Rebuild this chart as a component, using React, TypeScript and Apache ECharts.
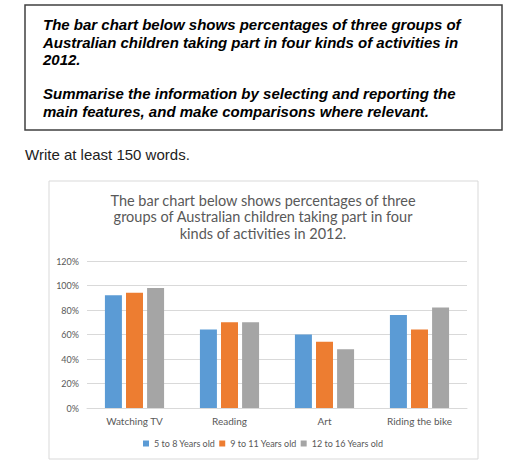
import React, { useEffect, useRef } from "react";
import * as echarts from "echarts";

const categories = ["Watching TV", "Reading", "Art", "Riding the bike"];
const seriesNames = ["5 to 8 Years old", "9 to 11 Years old", "12 to 16 Years old"];
const age5to8 = [92, 64, 60, 76];
const age9to11 = [94, 70, 54, 64];
const age12to16 = [98, 70, 48, 82];
const colors = ["#5B9BD5", "#ED7D31", "#A5A5A5"];
const yTicks = { min: 0, max: 120, interval: 20 };

const taskPara1 = "The bar chart below shows percentages of three groups of\nAustralian children taking part in four kinds of activities in\n2012.";
const taskPara2 = "Summarise the information by selecting and reporting the\nmain features, and make comparisons where relevant.";
const instruction = "Write at least 150 words.";
const chartTitle = "The bar chart below shows percentages of three\ngroups of Australian children taking part in four\nkinds of activities in 2012.";

export default function App() {
  const ref = useRef<HTMLDivElement>(null);
  useEffect(() => {
    if (!ref.current) return;
    const chart = echarts.init(ref.current, null, { renderer: "svg" });
    const values = [age5to8, age9to11, age12to16];
    chart.setOption({
      animation: false,
      backgroundColor: "#ffffff",
      textStyle: { fontFamily: "Lato" },
      grid: { left: 87, right: 45, top: 261, bottom: 56 },
      legend: {
        data: seriesNames,
        left: 138,
        top: 434,
        icon: "rect",
        itemWidth: 6,
        itemHeight: 6,
        itemGap: 4,
        textStyle: { fontSize: 9, color: "#595959", fontFamily: "Lato" },
      },
      xAxis: {
        type: "category",
        data: categories,
        axisLine: { lineStyle: { color: "#D9D9D9" } },
        axisTick: { show: false },
        axisLabel: { color: "#595959", fontSize: 10, margin: 8, fontFamily: "Lato" },
      },
      yAxis: {
        type: "value",
        min: yTicks.min,
        max: yTicks.max,
        interval: yTicks.interval,
        axisLabel: { formatter: "{value}%", color: "#595959", fontSize: 9, margin: 8, fontFamily: "Lato" },
        axisLine: { show: false },
        axisTick: { show: false },
        splitLine: { lineStyle: { color: "#D9D9D9" } },
      },
      series: seriesNames.map((name, i) => ({
        name,
        type: "bar",
        data: values[i],
        barWidth: 17,
        barGap: "24%",
        itemStyle: { color: colors[i] },
      })),
      graphic: [
        {
          type: "rect",
          shape: { x: 25, y: 5, width: 477, height: 125 },
          style: { fill: "none", stroke: "#404040", lineWidth: 1.5 },
        },
        {
          type: "text",
          x: 43,
          y: 16,
          style: {
            text: taskPara1,
            font: "italic bold 15px 'Liberation Sans', Arial, sans-serif",
            fill: "#000000",
            lineHeight: 17.5,
            verticalAlign: "top",
          },
        },
        {
          type: "text",
          x: 43,
          y: 85,
          style: {
            text: taskPara2,
            font: "italic bold 15px 'Liberation Sans', Arial, sans-serif",
            fill: "#000000",
            lineHeight: 17.5,
            verticalAlign: "top",
          },
        },
        {
          type: "text",
          x: 25,
          y: 147,
          style: {
            text: instruction,
            font: "15px 'Liberation Sans', Arial, sans-serif",
            fill: "#222222",
            verticalAlign: "top",
          },
        },
        {
          type: "rect",
          shape: { x: 49, y: 181, width: 429, height: 278 },
          style: { fill: "none", stroke: "#D9D9D9", lineWidth: 1 },
        },
        {
          type: "text",
          x: 263,
          y: 192,
          style: {
            text: chartTitle,
            font: "14.5px Lato, sans-serif",
            fill: "#595959",
            lineHeight: 16.5,
            align: "center",
            verticalAlign: "top",
          },
        },
      ],
    });
    return () => chart.dispose();
  }, []);
  return (
    <div
      ref={ref}
      style={{ position: "fixed", left: 0, top: 0, width: 512, height: 464, background: "#fff" }}
    />
  );
}
